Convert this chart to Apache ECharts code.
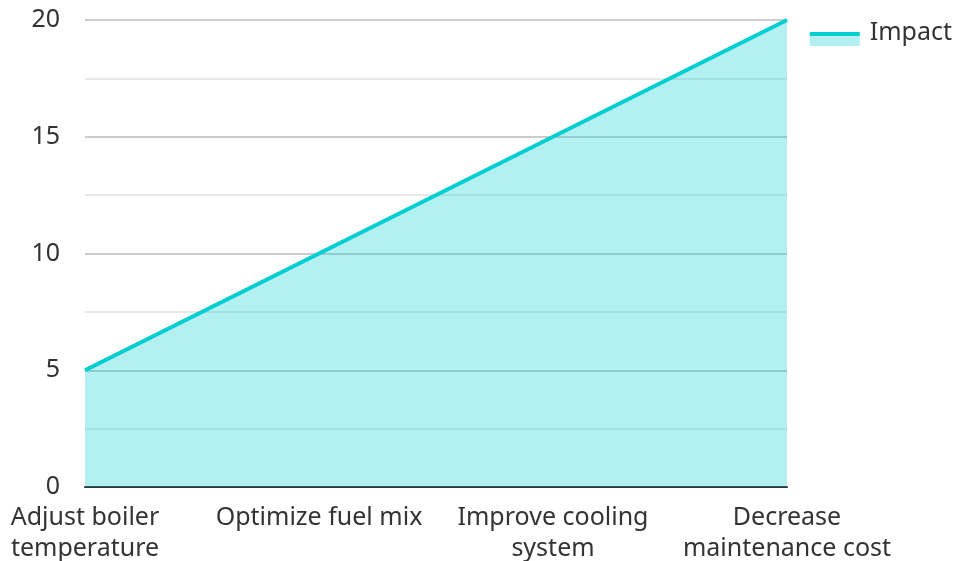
<!DOCTYPE html>
<html>
<head>
<meta charset="utf-8">
<script src="https://cdn.jsdelivr.net/npm/echarts@6/dist/echarts.min.js"></script>
<style>
  html, body { margin: 0; padding: 0; background: #fff; }
  #chart { width: 957px; height: 561px; }
</style>
</head>
<body>
<div id="chart"></div>
<script>
var categories = [
  'Adjust boiler\ntemperature',
  'Optimize fuel mix',
  'Improve cooling\nsystem',
  'Decrease\nmaintenance cost'
];
var impactValues = [5, 10, 15, 20];

var chart = echarts.init(document.getElementById('chart'));
var font = '"Noto Sans", sans-serif';
var lineColor = '#00CED1';
var areaColor = 'rgba(0, 206, 209, 0.3)';

var option = {
  animation: false,
  textStyle: { fontFamily: font },
  legend: {
    right: 0,
    top: 15,
    itemWidth: 50,
    itemHeight: 26,
    itemGap: 10,
    textStyle: { fontSize: 25, color: '#333', fontFamily: font, padding: [0, 0, 0, 5] },
    data: [{
      name: 'Impact',
      icon: 'rect',
      itemStyle: {
        // transparent top half so the swatch sits below the text centre
        color: {
          type: 'linear', x: 0, y: 0, x2: 0, y2: 1,
          colorStops: [
            { offset: 0, color: 'rgba(255,255,255,0)' },
            { offset: 0.46, color: 'rgba(255,255,255,0)' },
            { offset: 0.46, color: lineColor },
            { offset: 0.6, color: lineColor },
            { offset: 0.6, color: '#b2efef' },
            { offset: 1, color: '#b2efef' }
          ]
        },
        borderWidth: 0
      }
    }]
  },
  grid: {
    left: 85,
    right: 170,
    top: 20,
    bottom: 74,
    containLabel: false,
    outerBoundsMode: 'none'
  },
  xAxis: {
    type: 'category',
    data: categories,
    boundaryGap: false,
    axisLine: { lineStyle: { color: '#333', width: 2 } },
    axisTick: { show: false },
    axisLabel: {
      fontSize: 25,
      color: '#333',
      lineHeight: 31,
      margin: 15,
      interval: 0,
      fontFamily: font
    },
    splitLine: { show: false }
  },
  yAxis: {
    type: 'value',
    min: 0,
    max: 20,
    interval: 5,
    axisLine: { show: false },
    axisTick: { show: false },
    axisLabel: { fontSize: 25, color: '#333', margin: 25, fontFamily: font },
    splitLine: { lineStyle: { color: '#ccc', width: 2 } },
    minorTick: { show: false, splitNumber: 2 },
    minorSplitLine: { show: true, lineStyle: { color: '#e8e8e8', width: 2 } }
  },
  series: [{
    name: 'Impact',
    type: 'line',
    data: impactValues,
    showSymbol: false,
    symbol: 'none',
    lineStyle: { color: lineColor, width: 4 },
    itemStyle: { color: lineColor },
    areaStyle: { color: areaColor, opacity: 1 }
  }]
};

chart.setOption(option);
</script>
</body>
</html>
